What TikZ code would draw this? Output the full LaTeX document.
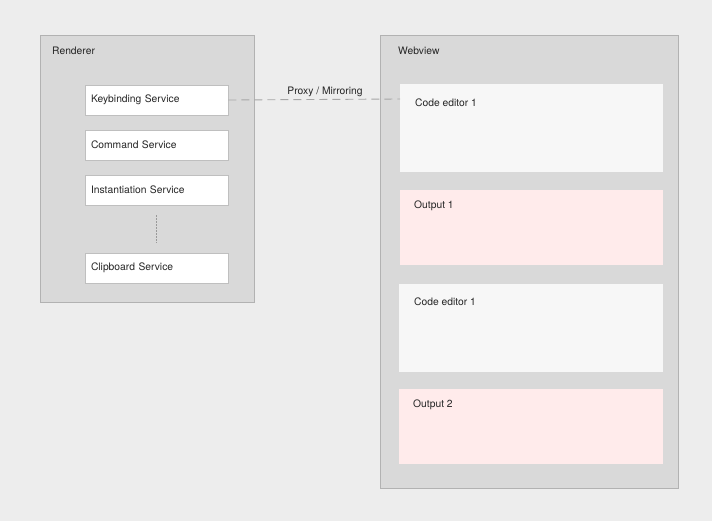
\documentclass[tikz,border=0pt]{standalone}
\usepackage{fontspec}
\setmainfont{TeX Gyre Heros}
\usetikzlibrary{calc}
\begin{document}
\begin{tikzpicture}[x=1pt,y=-1pt,
  every node/.style={font=\fontsize{10.3}{12}\selectfont, text=black!85, inner sep=0pt},
  panel/.style={draw=black!30, fill=black!15, line width=0.8pt},
  svc/.style={draw=black!25, fill=white, line width=0.6pt, minimum width=143pt, minimum height=30pt, inner sep=0pt, text width=131pt, align=left}]
\fill[black!7] (0,0) rectangle (712,521);
\useasboundingbox (0,0) rectangle (712,521);
\draw[panel] (40,35) rectangle (254,302);
\node[anchor=west] (rl) at (52,51) {Renderer};
\draw[panel] (380,35) rectangle (678,488);
\node[anchor=west] (wl) at (398,51) {Webview};
\node[svc] (kb) at (156.5,100) {Keybinding Service};
\node[svc] (cs) at (156.5,145) {Command Service};
\node[svc] (is) at (156.5,190) {Instantiation Service};
\node[svc] (cb) at (156.5,268) {Clipboard Service};
\draw[black!40, dash pattern=on 1.5pt off 1.5pt, line width=0.7pt] ($(is.south)+(0,10)$) -- ($(cb.north)+(0,-10)$);
\fill[white!97!black] (400,84) rectangle (663,172);
\node[anchor=west] (ce1) at (415,103) {Code editor 1};
\fill[red!8] (400,190) rectangle (663,265);
\node[anchor=west] (o1) at (414,206) {Output 1};
\fill[white!97!black] (399,284) rectangle (663,372);
\node[anchor=west] (ce2) at (414,302) {Code editor 1};
\fill[red!8] (399,389) rectangle (663,464);
\node[anchor=west] (o2) at (413,405) {Output 2};
\coordinate (pe) at (400,99);
\draw[black!35, dash pattern=on 8pt off 5pt, line width=0.9pt] (kb.east) -- (pe);
\node (pl) at (325,92) {Proxy / Mirroring};
\end{tikzpicture}
\end{document}
